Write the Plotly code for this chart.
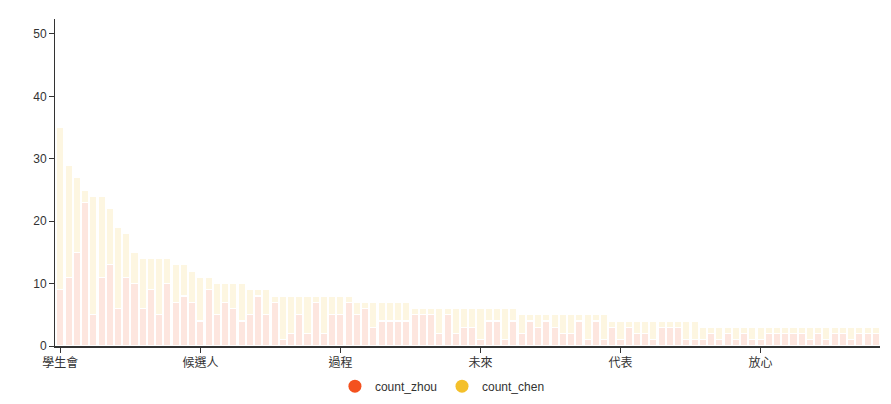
import plotly.graph_objects as go

# word frequency per speaker, sorted by total count (100 words)
count_zhou = [9, 11, 15, 23, 5, 11, 13, 6, 11, 10,
              6, 9, 5, 10, 7, 8, 7, 4, 9, 5,
              7, 6, 4, 5, 8, 5, 7, 1, 2, 5,
              2, 7, 2, 5, 5, 7, 5, 6, 3, 4,
              4, 4, 4, 5, 5, 5, 2, 5, 2, 3,
              3, 1, 4, 4, 1, 4, 2, 4, 3, 4,
              3, 2, 2, 4, 1, 4, 1, 3, 1, 3,
              2, 2, 1, 3, 3, 3, 1, 1, 1, 2,
              1, 2, 1, 2, 1, 1, 2, 2, 2, 2,
              2, 1, 2, 1, 2, 2, 1, 2, 2, 2]
count_chen = [26, 18, 12, 2, 19, 13, 9, 13, 7, 5,
              8, 5, 9, 4, 6, 5, 5, 7, 2, 5,
              3, 4, 6, 4, 1, 4, 1, 7, 6, 3,
              6, 1, 6, 3, 3, 1, 2, 1, 4, 3,
              3, 3, 3, 1, 1, 1, 4, 1, 4, 3,
              3, 5, 2, 2, 5, 2, 3, 1, 2, 1,
              2, 3, 3, 1, 4, 1, 4, 1, 3, 1,
              2, 2, 3, 1, 1, 1, 3, 3, 2, 1,
              2, 1, 2, 1, 2, 2, 1, 1, 1, 1,
              1, 2, 1, 2, 1, 1, 2, 1, 1, 1]
word_index = list(range(len(count_zhou)))

# only every 17th word is labelled on the axis
label_pos = [0, 17, 34, 51, 68, 85]
label_words = ["學生會", "候選人", "過程", "未來", "代表", "放心"]

zhou_color = "#f4511e"
chen_color = "#f4c02b"
font_family = "Arial, 'Liberation Sans', 'Noto Sans CJK TC', sans-serif"

fig = go.Figure()
fig.add_trace(go.Bar(x=word_index, y=count_zhou, name="count_zhou",
                     marker=dict(color="rgba(244,81,30,0.14)",
                                 line=dict(color="white", width=1.2)),
                     showlegend=False))
fig.add_trace(go.Bar(x=word_index, y=count_chen, name="count_chen",
                     marker=dict(color="rgba(244,192,43,0.14)",
                                 line=dict(color="white", width=1.2)),
                     showlegend=False))

# legend entries drawn as solid circles
fig.add_trace(go.Scatter(x=[None], y=[None], mode="markers", name="count_zhou",
                         marker=dict(color=zhou_color, size=13, symbol="circle")))
fig.add_trace(go.Scatter(x=[None], y=[None], mode="markers", name="count_chen",
                         marker=dict(color=chen_color, size=13, symbol="circle")))

# the page body adds an 8px margin, so the figure is a bit smaller than the window
fig.update_layout(
    barmode="stack",
    bargap=0.12,
    width=883, height=396,
    margin=dict(l=47, r=11, t=11, b=58, autoexpand=False),
    paper_bgcolor="white", plot_bgcolor="white",
    font=dict(family=font_family, size=12, color="#333"),
    legend=dict(orientation="h", xref="container", yref="container",
                x=0.492, xanchor="center", y=0.045, yanchor="middle",
                traceorder="normal", itemwidth=30, font=dict(size=12, color="#333")),
    xaxis=dict(range=[-0.65, 99.5], tickvals=label_pos, ticktext=label_words,
               automargin=False, showgrid=False, zeroline=False, showline=True,
               linecolor="#333", linewidth=2, ticks="outside", ticklen=5, tickcolor="#333"),
    yaxis=dict(range=[0, 52.4], tickvals=[0, 10, 20, 30, 40, 50], automargin=False,
               showgrid=False, zeroline=False, showline=True, linecolor="#333",
               linewidth=1, ticks="outside", ticklen=5, tickcolor="#333"),
)

fig.write_html("out.html")
